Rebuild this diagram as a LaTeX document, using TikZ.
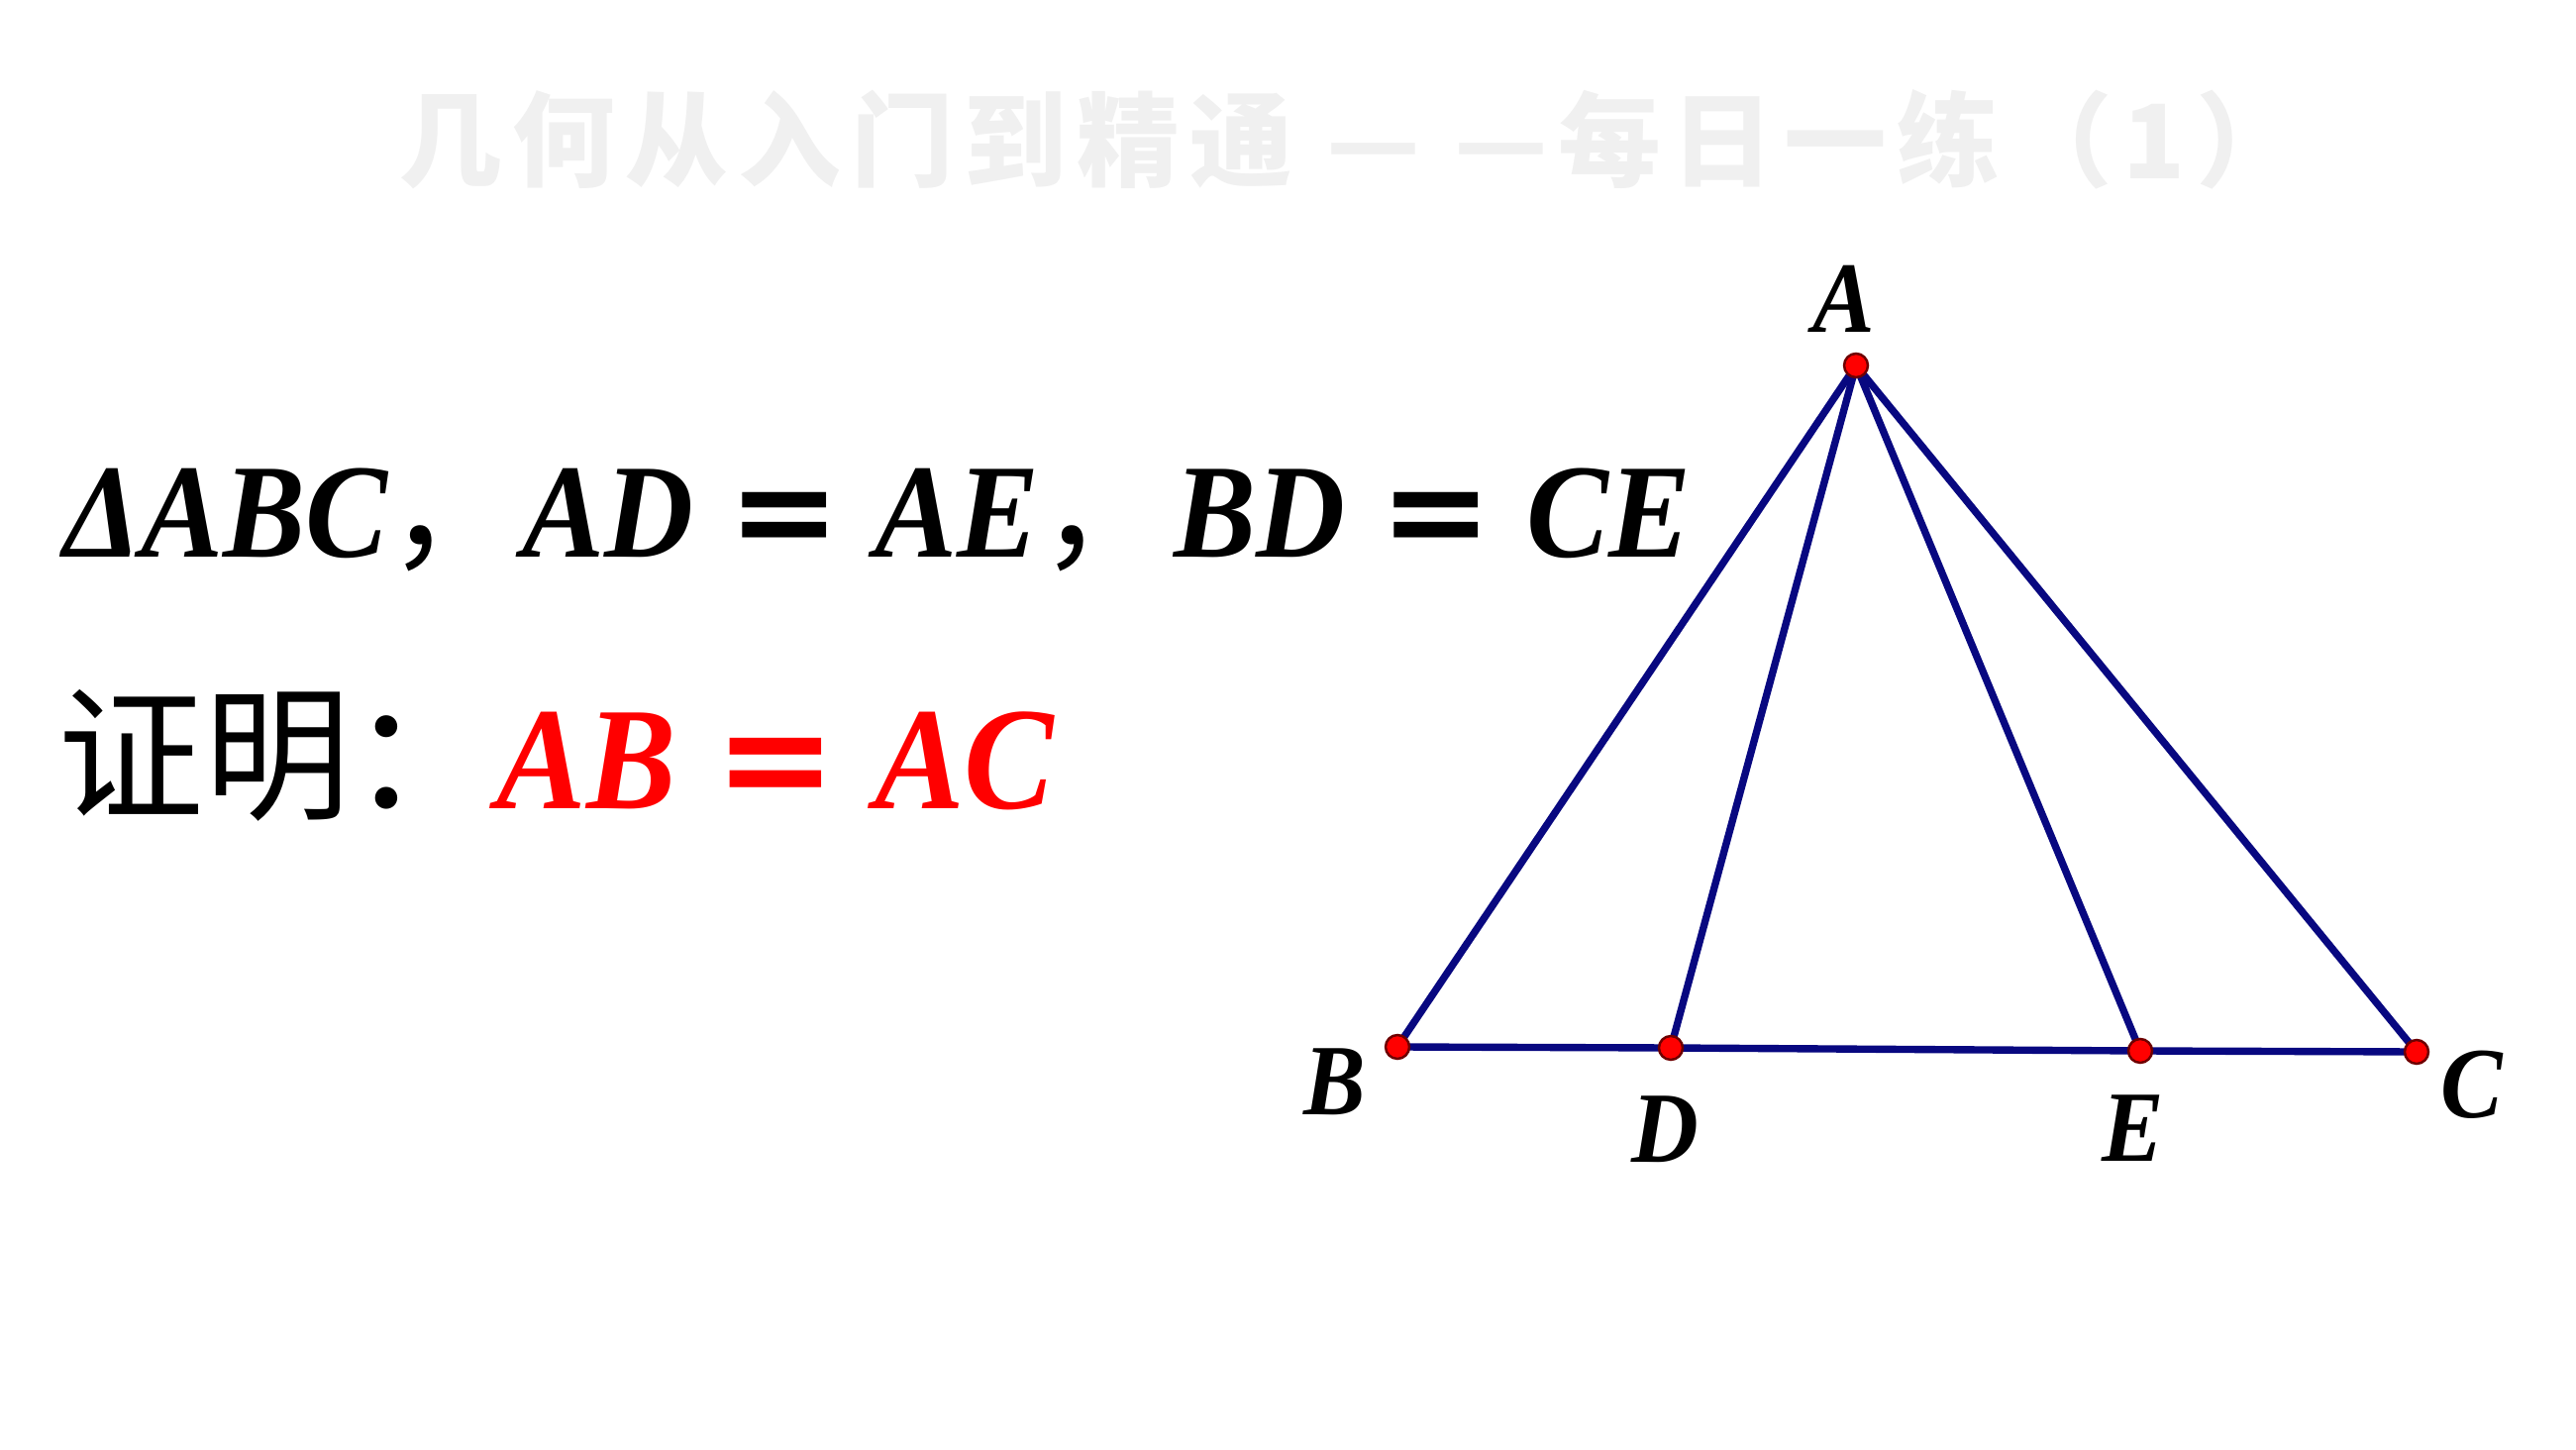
\documentclass[tikz,border=0pt]{standalone}
\usepackage{fontspec}
\setmainfont{Liberation Serif}[FakeStretch=0.92]
\newfontfamily\cjk{Noto Sans CJK SC}
\newfontfamily\cjktitle{Noto Sans CJK SC}[LetterSpace=10]
\newfontfamily\eqfont{DejaVu Sans}
\usetikzlibrary{positioning}
\definecolor{segblue}{RGB}{8,8,128}
\definecolor{titlegray}{RGB}{240,240,240}
\definecolor{dotedge}{RGB}{110,0,0}
\newcommand{\eqsign}{\hspace{0.03em}{\eqfont\bfseries =}\hspace{0.03em}}

\begin{document}
\begin{tikzpicture}[seg/.style={draw=segblue, line width=2.1pt, line join=round}, dot/.style={circle, draw=dotedge, fill=red, inner sep=0pt, minimum size=0.24cm, line width=0.7pt}, lbl/.style={inner sep=0pt, font=\fontsize{29}{30}\selectfont\bfseries\itshape}, txt/.style={anchor=base west, inner sep=0pt, font=\fontsize{38.5}{40}\selectfont\bfseries\itshape}]
	\useasboundingbox (0,0) rectangle (26.01,14.63);
	
	\node[font=\cjktitle\bfseries\fontsize{29.5}{31}\selectfont, text=titlegray] (title) at (13.62,13.22) {几何从入门到精通 — —每日一练（1）};
	
	\node[txt] (given) at (0.64,9.00) {ΔABC{\cjk\mdseries\upshape ，}AD \eqsign{} AE{\cjk\mdseries\upshape ，}BD \eqsign{} CE};
	\node[txt, font=\fontsize{42}{43}\selectfont\bfseries\itshape] (prove) at (0.58,6.46) {{\cjk\mdseries\upshape 证明：}\textcolor{red}{AB \eqsign{} AC}};
	
	\coordinate (A) at (18.74,10.94);
	\coordinate (B) at (14.11,4.06);
	\coordinate (D) at (16.87,4.05);
	\coordinate (E) at (21.61,4.02);
	\coordinate (C) at (24.40,4.01);
	
	\draw[seg] (A) -- (B) -- (D) -- (E) -- (C) -- cycle;
	\draw[seg] (A) -- (D);
	\draw[seg] (A) -- (E);
	
	\foreach \p in {A,B,D,E,C}
		\node[dot] (dot\p) at (\p) {};
	
	\node[lbl] (lA) at ([shift={(-0.12,0.67)}]A) {A};
	\node[lbl] (lB) at ([shift={(-0.63,-0.35)}]B) {B};
	\node[lbl] (lD) at ([shift={(-0.06,-0.82)}]D) {D};
	\node[lbl] (lE) at ([shift={(-0.07,-0.78)}]E) {E};
	\node[lbl] (lC) at ([shift={(0.56,-0.33)}]C) {C};
	
\end{tikzpicture}
\end{document}
